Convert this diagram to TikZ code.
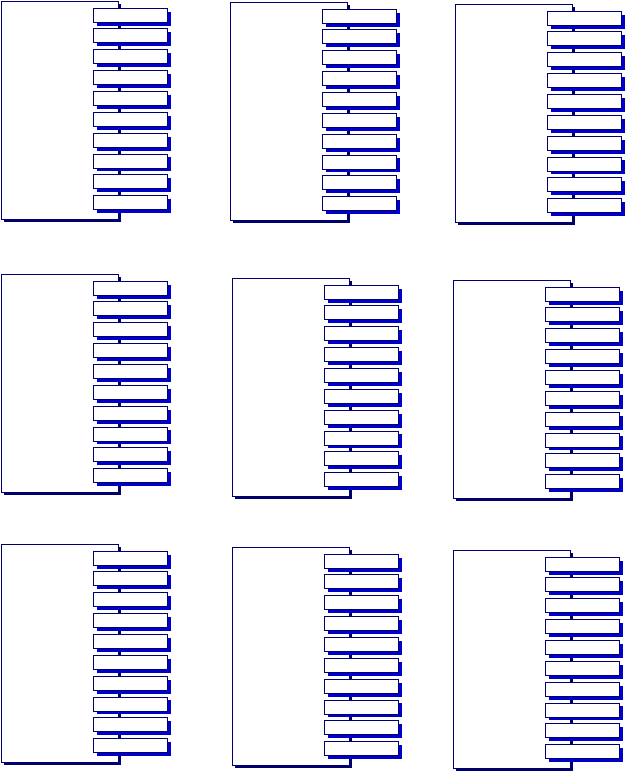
\documentclass[tikz,border=0pt]{standalone}
\definecolor{panelnavy}{RGB}{0,0,110}
\definecolor{tabblue}{RGB}{0,0,205}
\tikzset{
  panel/.style={draw=panelnavy, fill=white, line width=1pt, minimum width=117pt, minimum height=218pt, anchor=north west, inner sep=0pt, outer sep=0pt},
  panelshadow/.style={panel, draw=none, fill=panelnavy},
  tab/.style={draw=panelnavy, fill=white, line width=0.9pt, minimum width=74pt, minimum height=14pt, anchor=north west, inner sep=0pt, outer sep=0pt},
  tabshadow/.style={tab, draw=none, fill=tabblue}
}

\begin{document}
\begin{tikzpicture}[x=1pt,y=-1pt]
		\useasboundingbox (0,0) rectangle (625,772);

		\foreach \n/\x/\y in {1/1/1, 2/230/2, 3/455/4, 4/1/274, 5/232/278, 6/453/280, 7/1/544, 8/232/547, 9/453/550} {
			\node[panelshadow] at (\x+3.2,\y+3.2) {};
			\node[panel] (p\n) at (\x,\y) {};
			\foreach \k in {1,...,10} {
				\node[tabshadow] at ({\x+95.5},{\y+10.5+20.85*(\k-1)}) {};
				\node[tab] (t\n-\k) at ({\x+92},{\y+7+20.85*(\k-1)}) {};
			}
		}
	\end{tikzpicture}
\end{document}
